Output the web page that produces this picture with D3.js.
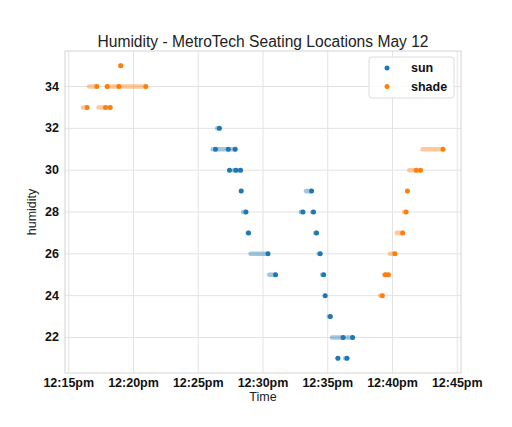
<!DOCTYPE html>
<html>
<head>
<meta charset="utf-8">
<script src="https://cdn.jsdelivr.net/npm/d3@7"></script>
<style>
  body { margin: 0; background: #fff; }
  svg { font-family: "Liberation Sans", Arial, sans-serif; }
</style>
</head>
<body>
<script>
// Humidity readings: runs of repeated readings [humidity, first time, last time]
var sunRuns = [
  [32, "12:26:28", "12:26:38"],
  [31, "12:26:07", "12:27:51"],
  [30, "12:27:25", "12:27:25"],
  [30, "12:27:44", "12:28:16"],
  [29, "12:28:19", "12:28:19"],
  [28, "12:28:28", "12:28:41"],
  [27, "12:28:49", "12:28:53"],
  [26, "12:29:03", "12:30:23"],
  [25, "12:30:29", "12:30:58"],
  [29, "12:33:19", "12:33:45"],
  [28, "12:32:55", "12:33:05"],
  [28, "12:33:48", "12:33:54"],
  [27, "12:34:02", "12:34:08"],
  [26, "12:34:18", "12:34:25"],
  [25, "12:34:34", "12:34:41"],
  [24, "12:34:48", "12:34:48"],
  [23, "12:35:05", "12:35:12"],
  [22, "12:35:20", "12:36:11"],
  [22, "12:36:26", "12:36:55"],
  [21, "12:35:47", "12:35:47"],
  [21, "12:36:21", "12:36:29"]
];
var sunDots = [
  [32, "12:26:38"], [31, "12:26:20"], [31, "12:27:19"], [31, "12:27:51"],
  [30, "12:27:25"], [30, "12:27:54"], [30, "12:28:16"], [29, "12:28:19"],
  [28, "12:28:41"], [27, "12:28:53"], [26, "12:30:23"], [25, "12:30:58"],
  [29, "12:33:45"], [28, "12:33:05"], [28, "12:33:54"], [27, "12:34:08"],
  [26, "12:34:25"], [25, "12:34:41"], [24, "12:34:48"], [23, "12:35:12"],
  [22, "12:36:11"], [22, "12:36:55"], [21, "12:35:47"], [21, "12:36:29"]
];
var shadeRuns = [
  [35, "12:18:58", "12:19:03"],
  [34, "12:16:34", "12:17:10"],
  [34, "12:17:58", "12:20:57"],
  [33, "12:16:06", "12:16:25"],
  [33, "12:17:18", "12:18:12"],
  [31, "12:42:20", "12:43:54"],
  [30, "12:41:18", "12:42:10"],
  [29, "12:41:09", "12:41:09"],
  [28, "12:40:54", "12:41:03"],
  [27, "12:40:20", "12:40:47"],
  [26, "12:39:49", "12:40:11"],
  [25, "12:39:21", "12:39:41"],
  [24, "12:39:03", "12:39:13"]
];
var shadeDots = [
  [35, "12:19:01"], [34, "12:17:10"], [34, "12:17:58"], [34, "12:18:52"],
  [34, "12:20:57"], [33, "12:16:25"], [33, "12:17:50"], [33, "12:18:12"],
  [31, "12:43:54"], [30, "12:41:50"], [30, "12:42:10"], [29, "12:41:09"],
  [28, "12:41:03"], [27, "12:40:47"], [26, "12:40:11"], [25, "12:39:27"],
  [25, "12:39:41"], [24, "12:39:13"]
];
var groups = ["sun", "shade"];
var yTicks = [22, 24, 26, 28, 30, 32, 34];

var width = 512, height = 427;
var margin = {top: 51, right: 51, bottom: 54, left: 65};
var colors = {sun: "#1f77b4", shade: "#ff7f0e"};
var parseTime = d3.timeParse("%H:%M:%S");

var svg = d3.select("body").append("svg")
  .attr("width", width)
  .attr("height", height);

// collect every time to get the extent, then pad 5% like matplotlib does
var allTimes = [], allHum = [];
[sunRuns, shadeRuns].forEach(function(runs) {
  runs.forEach(function(r) {
    allTimes.push(parseTime(r[1]), parseTime(r[2]));
    allHum.push(r[0]);
  });
});
var tExt = d3.extent(allTimes), hExt = d3.extent(allHum);
var tPad = (tExt[1] - tExt[0]) * 0.05, hPad = (hExt[1] - hExt[0]) * 0.05;

var x = d3.scaleTime()
  .domain([new Date(+tExt[0] - tPad), new Date(+tExt[1] + tPad)])
  .range([margin.left, width - margin.right]);
var y = d3.scaleLinear()
  .domain([hExt[0] - hPad, hExt[1] + hPad])
  .range([height - margin.bottom, margin.top]);

var xTicks = x.ticks(d3.timeMinute.every(5));
var fmt = d3.timeFormat("%-I:%M%p");

// grid
svg.append("g").selectAll("line").data(xTicks).enter().append("line")
  .attr("x1", function(d) { return x(d); })
  .attr("x2", function(d) { return x(d); })
  .attr("y1", margin.top).attr("y2", height - margin.bottom)
  .attr("stroke", "#e3e3e3").attr("stroke-width", 1);
svg.append("g").selectAll("line").data(yTicks).enter().append("line")
  .attr("y1", function(d) { return y(d); })
  .attr("y2", function(d) { return y(d); })
  .attr("x1", margin.left).attr("x2", width - margin.right)
  .attr("stroke", "#e3e3e3").attr("stroke-width", 1);

// frame
svg.append("rect")
  .attr("x", margin.left).attr("y", margin.top)
  .attr("width", width - margin.left - margin.right)
  .attr("height", height - margin.top - margin.bottom)
  .attr("fill", "none").attr("stroke", "#d4d4d4").attr("stroke-width", 1);

// tick labels
svg.append("g").selectAll("text").data(xTicks).enter().append("text")
  .attr("x", function(d) { return x(d); })
  .attr("y", height - margin.bottom + 14)
  .attr("text-anchor", "middle")
  .attr("font-size", "12.5px").attr("font-weight", "bold").attr("fill", "#111")
  .text(function(d) { return fmt(d).toLowerCase(); });
svg.append("g").selectAll("text").data(yTicks).enter().append("text")
  .attr("x", margin.left - 6)
  .attr("y", function(d) { return y(d) + 4; })
  .attr("text-anchor", "end")
  .attr("font-size", "12.5px").attr("font-weight", "bold").attr("fill", "#111")
  .text(function(d) { return d; });

// runs drawn as translucent streaks, with solid markers on top
function drawGroup(runs, dots, color) {
  var g = svg.append("g");
  g.selectAll("line").data(runs).enter().append("line")
    .attr("x1", function(d) { return x(parseTime(d[1])); })
    .attr("x2", function(d) { return x(parseTime(d[2])); })
    .attr("y1", function(d) { return y(d[0]); })
    .attr("y2", function(d) { return y(d[0]); })
    .attr("stroke", color).attr("stroke-opacity", 0.42)
    .attr("stroke-width", 4.6).attr("stroke-linecap", "round");
  g.selectAll("circle").data(dots).enter().append("circle")
    .attr("cx", function(d) { return x(parseTime(d[1])); })
    .attr("cy", function(d) { return y(d[0]); })
    .attr("r", 2.5)
    .attr("fill", color);
}
drawGroup(sunRuns, sunDots, colors.sun);
drawGroup(shadeRuns, shadeDots, colors.shade);

// titles
svg.append("text")
  .attr("x", (margin.left + width - margin.right) / 2).attr("y", 47)
  .attr("text-anchor", "middle").attr("font-size", "15.6px").attr("fill", "#222")
  .text("Humidity - MetroTech Seating Locations May 12");
svg.append("text")
  .attr("x", (margin.left + width - margin.right) / 2).attr("y", 401)
  .attr("text-anchor", "middle").attr("font-size", "12.5px").attr("fill", "#222")
  .text("Time");
svg.append("text")
  .attr("transform", "translate(36," + (margin.top + height - margin.bottom) / 2 + ") rotate(-90)")
  .attr("text-anchor", "middle").attr("font-size", "12.5px").attr("fill", "#222")
  .text("humidity");

// legend
var legend = svg.append("g").attr("transform", "translate(369,57)");
legend.append("rect")
  .attr("width", 85).attr("height", 41).attr("rx", 3)
  .attr("fill", "#fff").attr("fill-opacity", 0.85)
  .attr("stroke", "#dcdcdc");
legend.selectAll("circle").data(groups).enter().append("circle")
  .attr("cx", 18).attr("cy", function(d, i) { return 11 + i * 18.5; })
  .attr("r", 2.5).attr("fill", function(d) { return colors[d]; });
legend.selectAll("text").data(groups).enter().append("text")
  .attr("x", 42).attr("y", function(d, i) { return 15 + i * 18.5; })
  .attr("font-size", "12.5px").attr("font-weight", "bold").attr("fill", "#111")
  .text(function(d) { return d; });
</script>
</body>
</html>
